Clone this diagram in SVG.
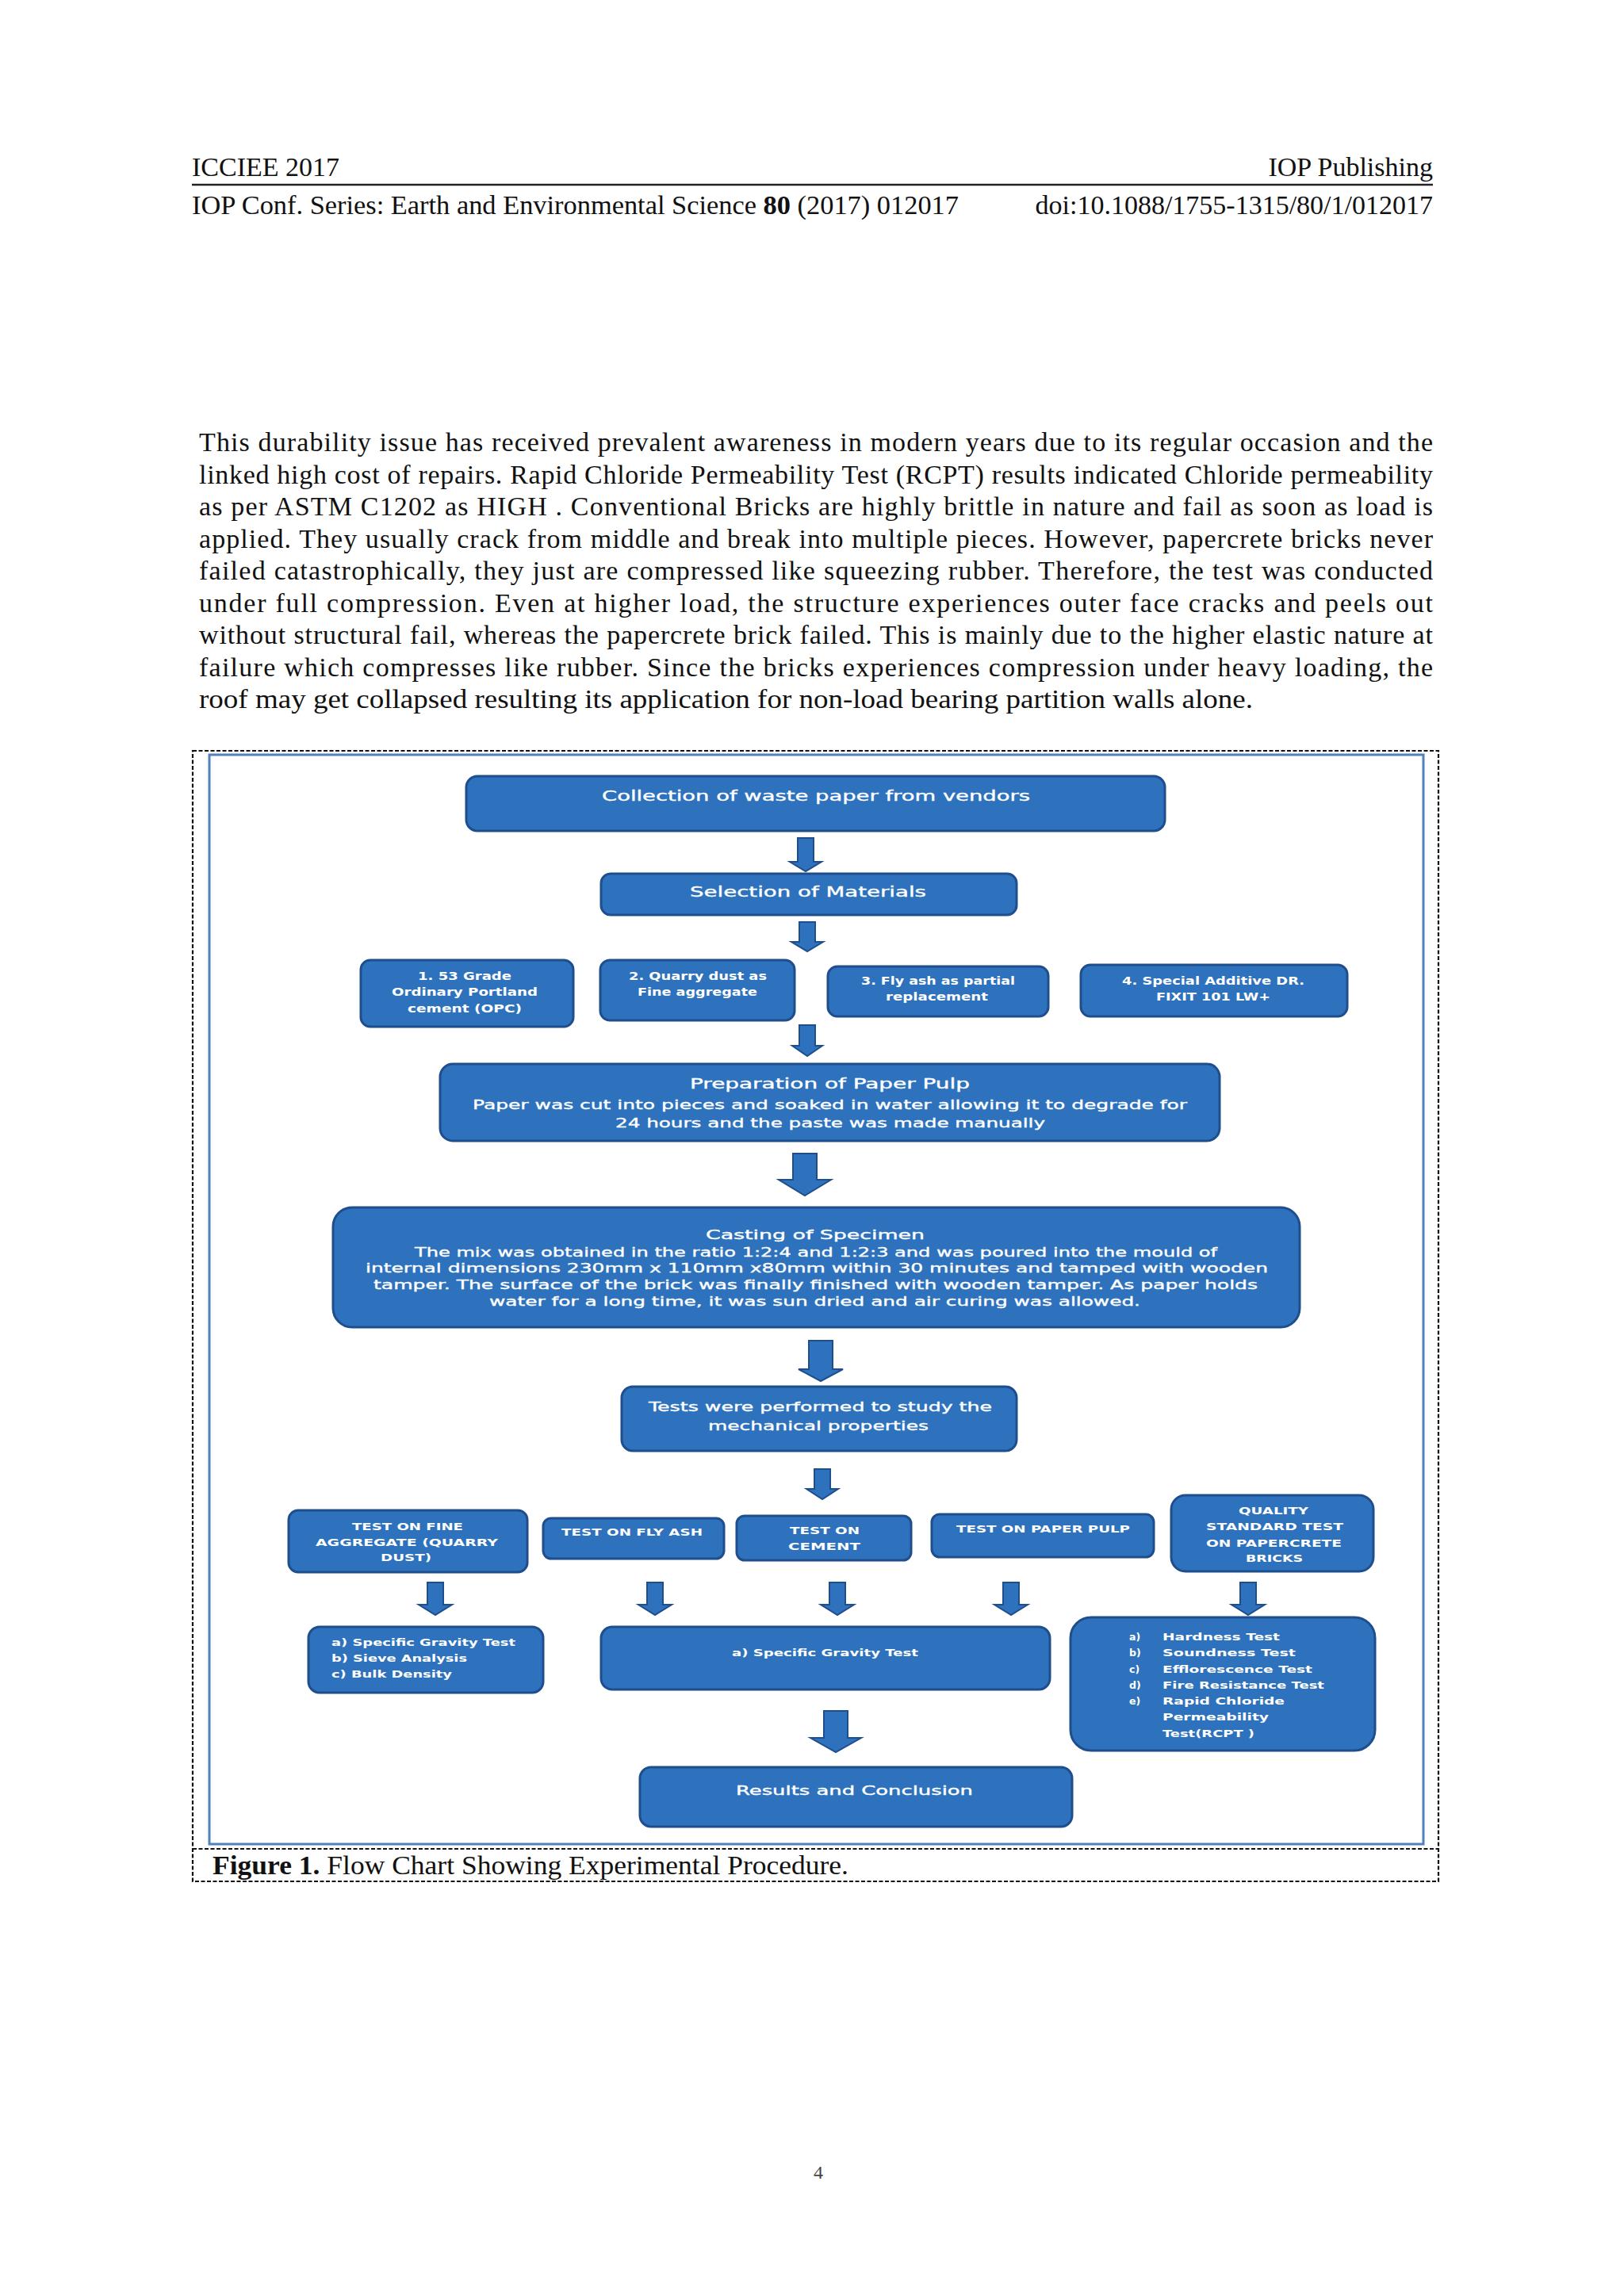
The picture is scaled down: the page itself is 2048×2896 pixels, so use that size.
<svg xmlns="http://www.w3.org/2000/svg" width="2048" height="2896" viewBox="0 0 2048 2896">
<defs>
<style>
.bg{fill:#ffffff}
.serif{font-family:"Liberation Serif","Times New Roman",serif;fill:#111;font-size:34px}
.box{fill:#2e72bd;stroke:#1f4e8d;stroke-width:3}
.arr{fill:#2e72bd;stroke:#1f4e8d;stroke-width:2}
.t{font-family:"DejaVu Sans",sans-serif;fill:#ffffff;stroke:#ffffff;stroke-width:0.35}
.b{font-weight:bold;stroke-width:0}
.s18{font-size:18px}.s17{font-size:17px}.s16{font-size:16px}.s15{font-size:15.5px}.s14{font-size:14px}.s12{font-size:12.5px}
</style>
</defs>
<rect class="bg" x="0" y="0" width="2048" height="2896"/>

<g id="header">
<text class="serif" x="242" y="222">ICCIEE 2017</text>
<text class="serif" x="1807" y="222" text-anchor="end">IOP Publishing</text>
<line x1="242" y1="233" x2="1807" y2="233" stroke="#222" stroke-width="2.5"/>
<text class="serif" x="242" y="270" textLength="967" lengthAdjust="spacingAndGlyphs">IOP Conf. Series: Earth and Environmental Science <tspan font-weight="bold">80</tspan> (2017) 012017</text>
<text class="serif" x="1807" y="270" text-anchor="end">doi:10.1088/1755-1315/80/1/012017</text>
</g>

<g id="body">
<text class="serif" x="251" y="569" textLength="1556" lengthAdjust="spacing">This durability issue has received prevalent awareness in modern years due to its regular occasion and the</text>
<text class="serif" x="251" y="610" textLength="1556" lengthAdjust="spacing">linked high cost of repairs. Rapid Chloride Permeability Test (RCPT) results indicated Chloride permeability</text>
<text class="serif" x="251" y="650" textLength="1556" lengthAdjust="spacing">as per ASTM C1202 as HIGH . Conventional Bricks are highly brittle in nature and fail as soon as load is</text>
<text class="serif" x="251" y="691" textLength="1556" lengthAdjust="spacing">applied. They usually crack from middle and break into multiple pieces. However, papercrete bricks never</text>
<text class="serif" x="251" y="731" textLength="1556" lengthAdjust="spacing">failed catastrophically, they just are compressed like squeezing rubber. Therefore, the test was conducted</text>
<text class="serif" x="251" y="772" textLength="1556" lengthAdjust="spacing">under full compression. Even at higher load, the structure experiences outer face cracks and peels out</text>
<text class="serif" x="251" y="812" textLength="1556" lengthAdjust="spacing">without structural fail, whereas the papercrete brick failed. This is mainly due to the higher elastic nature at</text>
<text class="serif" x="251" y="853" textLength="1556" lengthAdjust="spacing">failure which compresses like rubber. Since the bricks experiences compression under heavy loading, the</text>
<text class="serif" x="251" y="893" textLength="1329" lengthAdjust="spacingAndGlyphs">roof may get collapsed resulting its application for non-load bearing partition walls alone.</text>
</g>

<g id="frame">
<rect x="243" y="947" width="1571" height="1426" fill="none" stroke="#111" stroke-width="2.2" stroke-dasharray="5,2.5"/>
<line x1="243" y1="2332" x2="1814" y2="2332" stroke="#111" stroke-width="2.2" stroke-dasharray="5,2.5"/>
<rect x="264" y="952" width="1531" height="1374" fill="none" stroke="#4f81bd" stroke-width="3"/>
<text class="serif" x="268" y="2364" textLength="802" lengthAdjust="spacingAndGlyphs"><tspan font-weight="bold">Figure 1.</tspan> Flow Chart Showing Experimental Procedure.</text>
</g>

<g id="connectors">
<path class="arr" d="M1006,1057 H1026 V1087 H1036 L1016,1099 L996,1087 H1006 Z"/>
<path class="arr" d="M1008,1163 H1028 V1188 H1038 L1018,1200 L998,1188 H1008 Z"/>
<path class="arr" d="M1008,1293 H1028 V1319 H1037 L1018,1332 L999,1319 H1008 Z"/>
<path class="arr" d="M1000,1455 H1030 V1488 H1048 L1015,1508 L982,1488 H1000 Z"/>
<path class="arr" d="M1020,1691 H1050 V1727 H1063 L1035,1742 L1007,1727 H1020 Z"/>
<path class="arr" d="M1027,1853 H1047 V1878 H1057 L1037,1891 L1017,1878 H1027 Z"/>
<path class="arr" d="M539,1996 H559 V2024 H570 L549,2037 L528,2024 H539 Z"/>
<path class="arr" d="M816,1996 H836 V2024 H847 L826,2037 L805,2024 H816 Z"/>
<path class="arr" d="M1046,1996 H1066 V2024 H1077 L1056,2037 L1035,2024 H1046 Z"/>
<path class="arr" d="M1265,1996 H1285 V2024 H1296 L1275,2037 L1254,2024 H1265 Z"/>
<path class="arr" d="M1564,1996 H1584 V2024 H1595 L1574,2037 L1553,2024 H1564 Z"/>
<path class="arr" d="M1039,2158 H1069 V2192 H1086 L1054,2210 L1022,2192 H1039 Z"/>
</g>

<g id="n-collection">
<rect class="box" x="588" y="979" width="881" height="69" rx="14"/>
<text class="t s18" x="759" y="1010" textLength="540" lengthAdjust="spacingAndGlyphs">Collection of waste paper from vendors</text>
</g>
<g id="n-selection">
<rect class="box" x="758" y="1102" width="524" height="52" rx="12"/>
<text class="t s18" x="870" y="1131" textLength="298" lengthAdjust="spacingAndGlyphs">Selection of Materials</text>
</g>
<g id="n-opc">
<rect class="box" x="455" y="1211" width="268" height="84" rx="12"/>
<text class="t b s14" x="527" y="1236" textLength="118" lengthAdjust="spacingAndGlyphs">1. 53 Grade</text>
<text class="t b s14" x="494" y="1256" textLength="184" lengthAdjust="spacingAndGlyphs">Ordinary Portland</text>
<text class="t b s14" x="514" y="1277" textLength="144" lengthAdjust="spacingAndGlyphs">cement (OPC)</text>
</g>
<g id="n-quarry">
<rect class="box" x="757" y="1211" width="245" height="76" rx="12"/>
<text class="t b s14" x="793" y="1236" textLength="174" lengthAdjust="spacingAndGlyphs">2. Quarry dust as</text>
<text class="t b s14" x="804" y="1256" textLength="151" lengthAdjust="spacingAndGlyphs">Fine aggregate</text>
</g>
<g id="n-flyash">
<rect class="box" x="1044" y="1219" width="278" height="63" rx="12"/>
<text class="t b s14" x="1086" y="1242" textLength="194" lengthAdjust="spacingAndGlyphs">3. Fly ash as partial</text>
<text class="t b s14" x="1117" y="1262" textLength="129" lengthAdjust="spacingAndGlyphs">replacement</text>
</g>
<g id="n-additive">
<rect class="box" x="1363" y="1217" width="336" height="65" rx="12"/>
<text class="t b s14" x="1415" y="1242" textLength="230" lengthAdjust="spacingAndGlyphs">4. Special Additive DR.</text>
<text class="t b s14" x="1458" y="1262" textLength="144" lengthAdjust="spacingAndGlyphs">FIXIT 101 LW+</text>
</g>
<g id="n-pulp">
<rect class="box" x="555" y="1342" width="983" height="97" rx="16"/>
<text class="t s17" x="870" y="1373" textLength="353" lengthAdjust="spacingAndGlyphs">Preparation of Paper Pulp</text>
<text class="t s16" x="596" y="1399" textLength="901" lengthAdjust="spacingAndGlyphs">Paper was cut into pieces and soaked in water allowing it to degrade for</text>
<text class="t s16" x="776" y="1422" textLength="542" lengthAdjust="spacingAndGlyphs">24 hours and the paste was made manually</text>
</g>
<g id="n-casting">
<rect class="box" x="420" y="1523" width="1219" height="151" rx="24"/>
<text class="t s16" x="890" y="1563" textLength="276" lengthAdjust="spacingAndGlyphs">Casting of Specimen</text>
<text class="t s16" x="523" y="1585" textLength="1012" lengthAdjust="spacingAndGlyphs">The mix was obtained in the ratio 1:2:4 and 1:2:3 and was poured into the mould of</text>
<text class="t s16" x="461" y="1605" textLength="1138" lengthAdjust="spacingAndGlyphs">internal dimensions 230mm x 110mm x80mm within 30 minutes and tamped with wooden</text>
<text class="t s16" x="471" y="1626" textLength="1115" lengthAdjust="spacingAndGlyphs">tamper. The surface of the brick was finally finished with wooden tamper. As paper holds</text>
<text class="t s16" x="617" y="1647" textLength="821" lengthAdjust="spacingAndGlyphs">water for a long time, it was sun dried and air curing was allowed.</text>
</g>
<g id="n-tests">
<rect class="box" x="784" y="1749" width="498" height="81" rx="14"/>
<text class="t s16" x="818" y="1780" textLength="433" lengthAdjust="spacingAndGlyphs">Tests were performed to study the</text>
<text class="t s16" x="893" y="1804" textLength="278" lengthAdjust="spacingAndGlyphs">mechanical properties</text>
</g>
<g id="n-test-fine">
<rect class="box" x="364" y="1905" width="301" height="78" rx="12"/>
<text class="t b s12" x="444" y="1930" textLength="140" lengthAdjust="spacingAndGlyphs">TEST ON FINE</text>
<text class="t b s12" x="398" y="1950" textLength="230" lengthAdjust="spacingAndGlyphs">AGGREGATE (QUARRY</text>
<text class="t b s12" x="480" y="1969" textLength="64" lengthAdjust="spacingAndGlyphs">DUST)</text>
</g>
<g id="n-test-flyash">
<rect class="box" x="685" y="1915" width="228" height="51" rx="10"/>
<text class="t b s12" x="708" y="1937" textLength="178" lengthAdjust="spacingAndGlyphs">TEST ON FLY ASH</text>
</g>
<g id="n-test-cement">
<rect class="box" x="929" y="1912" width="220" height="56" rx="10"/>
<text class="t b s12" x="996" y="1935" textLength="88" lengthAdjust="spacingAndGlyphs">TEST ON</text>
<text class="t b s12" x="994" y="1955" textLength="91" lengthAdjust="spacingAndGlyphs">CEMENT</text>
</g>
<g id="n-test-pulp">
<rect class="box" x="1175" y="1910" width="280" height="54" rx="10"/>
<text class="t b s12" x="1206" y="1933" textLength="219" lengthAdjust="spacingAndGlyphs">TEST ON PAPER PULP</text>
</g>
<g id="n-test-quality">
<rect class="box" x="1477" y="1886" width="255" height="96" rx="18"/>
<text class="t b s12" x="1562" y="1910" textLength="88" lengthAdjust="spacingAndGlyphs">QUALITY</text>
<text class="t b s12" x="1521" y="1930" textLength="173" lengthAdjust="spacingAndGlyphs">STANDARD TEST</text>
<text class="t b s12" x="1521" y="1951" textLength="171" lengthAdjust="spacingAndGlyphs">ON PAPERCRETE</text>
<text class="t b s12" x="1571" y="1970" textLength="72" lengthAdjust="spacingAndGlyphs">BRICKS</text>
</g>
<g id="n-fine-results">
<rect class="box" x="389" y="2052" width="296" height="83" rx="14"/>
<text class="t b s12" x="418" y="2076" textLength="232" lengthAdjust="spacingAndGlyphs">a) Specific Gravity Test</text>
<text class="t b s12" x="418" y="2096" textLength="171" lengthAdjust="spacingAndGlyphs">b) Sieve Analysis</text>
<text class="t b s12" x="418" y="2116" textLength="152" lengthAdjust="spacingAndGlyphs">c) Bulk Density</text>
</g>
<g id="n-gravity">
<rect class="box" x="758" y="2052" width="566" height="79" rx="14"/>
<text class="t b s12" x="923" y="2089" textLength="235" lengthAdjust="spacingAndGlyphs">a) Specific Gravity Test</text>
</g>
<g id="n-quality-results">
<rect class="box" x="1350" y="2040" width="384" height="168" rx="26"/>
<text class="t b s12" x="1424" y="2069">a)</text>
<text class="t b s12" x="1424" y="2089">b)</text>
<text class="t b s12" x="1424" y="2110">c)</text>
<text class="t b s12" x="1424" y="2130">d)</text>
<text class="t b s12" x="1424" y="2150">e)</text>
<text class="t b s12" x="1466" y="2069" textLength="148" lengthAdjust="spacingAndGlyphs">Hardness Test</text>
<text class="t b s12" x="1466" y="2089" textLength="168" lengthAdjust="spacingAndGlyphs">Soundness  Test</text>
<text class="t b s12" x="1466" y="2110" textLength="189" lengthAdjust="spacingAndGlyphs">Efflorescence Test</text>
<text class="t b s12" x="1466" y="2130" textLength="204" lengthAdjust="spacingAndGlyphs">Fire Resistance Test</text>
<text class="t b s12" x="1466" y="2150" textLength="154" lengthAdjust="spacingAndGlyphs">Rapid Chloride</text>
<text class="t b s12" x="1466" y="2170" textLength="134" lengthAdjust="spacingAndGlyphs">Permeability</text>
<text class="t b s12" x="1466" y="2191" textLength="116" lengthAdjust="spacingAndGlyphs">Test(RCPT )</text>
</g>
<g id="n-results">
<rect class="box" x="807" y="2229" width="545" height="75" rx="14"/>
<text class="t s15" x="928" y="2264" textLength="299" lengthAdjust="spacingAndGlyphs">Results and Conclusion</text>
</g>

<g id="footer">
<text x="1032" y="2748" text-anchor="middle" font-family="Liberation Serif, serif" font-size="24" fill="#444">4</text>
</g>
</svg>
